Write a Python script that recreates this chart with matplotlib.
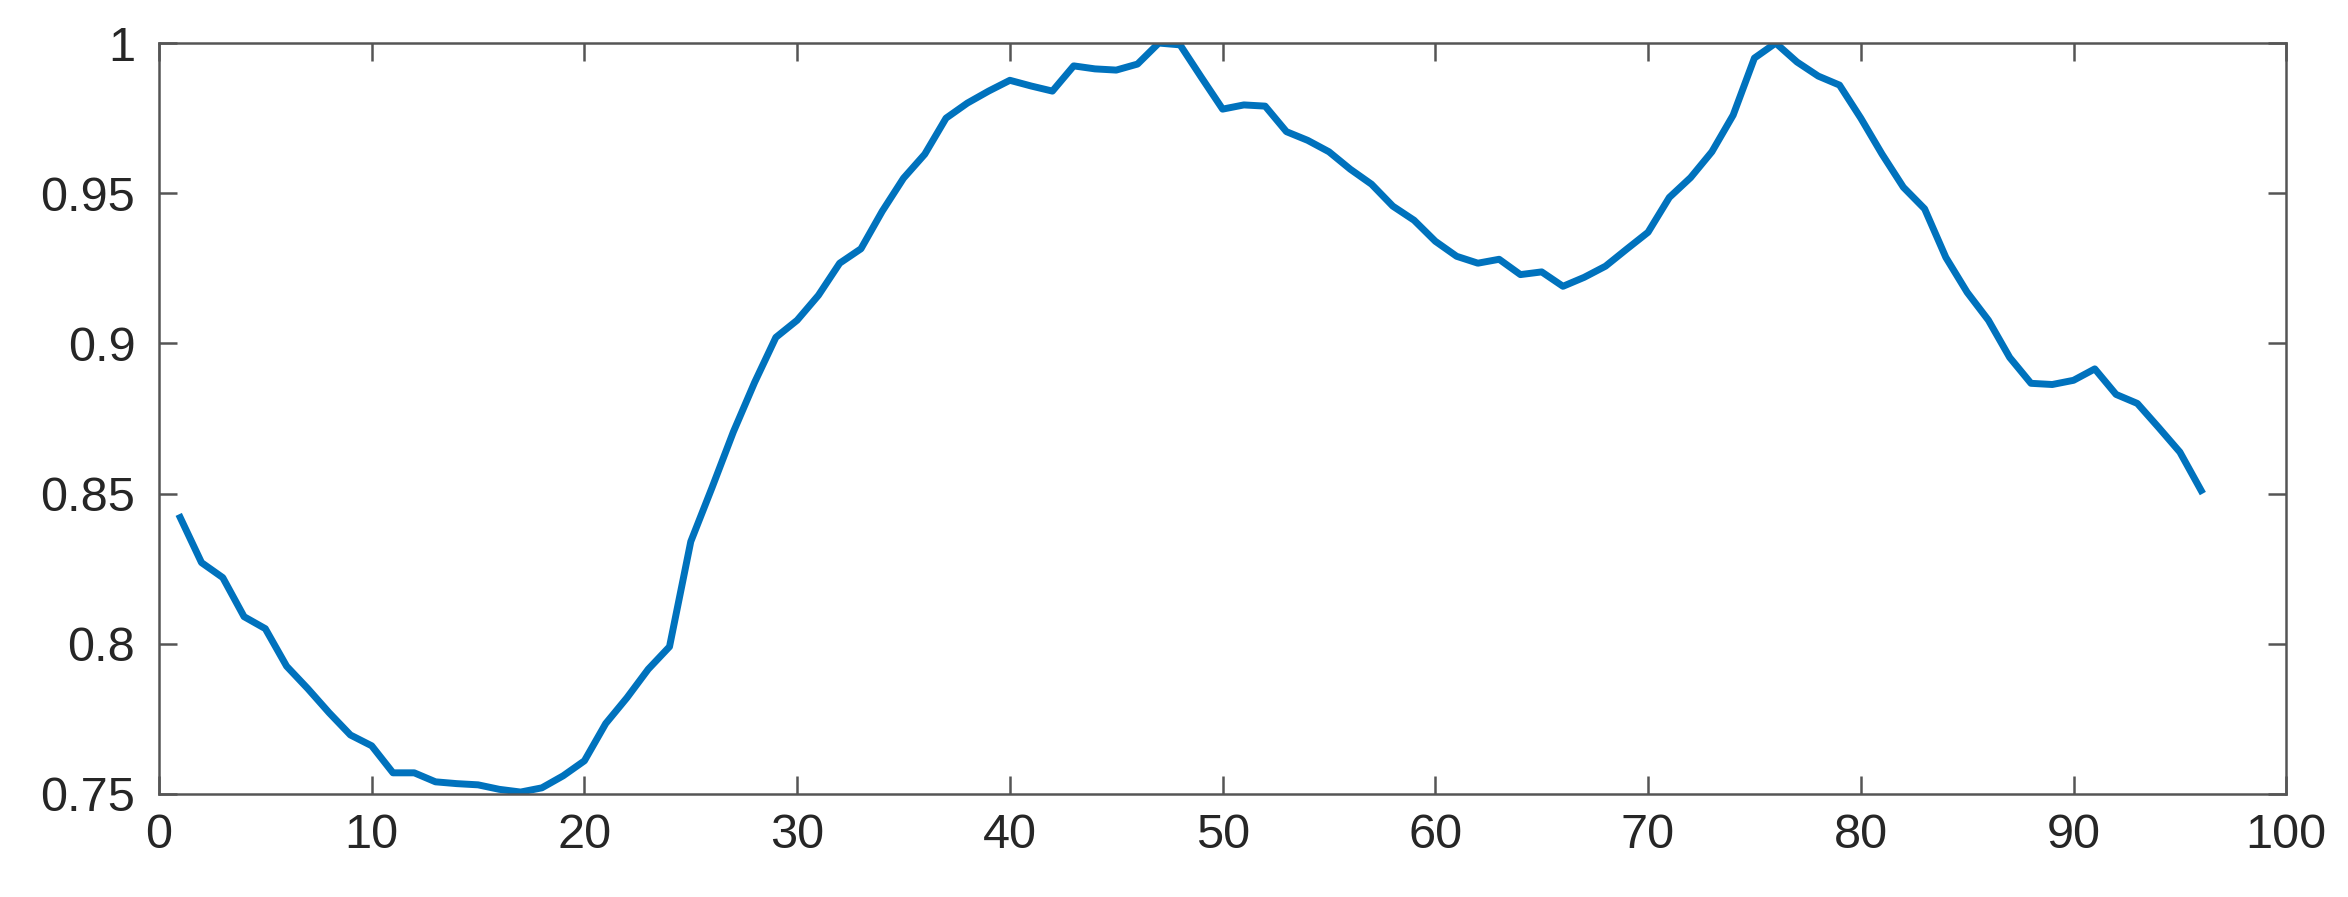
import matplotlib
matplotlib.use("Agg")
import matplotlib.pyplot as plt
from matplotlib.ticker import FormatStrFormatter

# sample index and value
x = list(range(1, 97))
y = [0.842, 0.827, 0.822, 0.809, 0.805, 0.7925, 0.785, 0.777, 0.7696, 0.766,
     0.757, 0.757, 0.754, 0.7534, 0.753, 0.7515, 0.7506, 0.752, 0.756, 0.761,
     0.7734, 0.782, 0.7915, 0.799, 0.834, 0.852, 0.8705, 0.887, 0.902, 0.9077,
     0.916, 0.9267, 0.9315, 0.944, 0.955, 0.963, 0.975, 0.980, 0.984, 0.9876,
     0.9857, 0.984, 0.9924, 0.9914, 0.991, 0.993, 1.000, 0.9994, 0.9886, 0.978,
     0.9794, 0.979, 0.9705, 0.9676, 0.9638, 0.958, 0.953, 0.9457, 0.941, 0.934,
     0.9290, 0.9267, 0.928, 0.9229, 0.9238, 0.919, 0.922, 0.9257, 0.9314, 0.937,
     0.9486, 0.9552, 0.9638, 0.976, 0.995, 1.000, 0.9937, 0.989, 0.986, 0.975,
     0.963, 0.952, 0.9448, 0.9286, 0.917, 0.9077, 0.8953, 0.8867, 0.8863, 0.8877,
     0.8915, 0.883, 0.880, 0.872, 0.8638, 0.851]

xticks = list(range(0, 101, 10))
yticks = [0.75, 0.8, 0.85, 0.9, 0.95, 1.0]

plt.rcParams['font.family'] = ['Liberation Sans', 'DejaVu Sans']

fig = plt.figure(figsize=(23.48, 8.97), dpi=100)
ax = fig.add_axes([0.0677, 0.115, 0.906, 0.837])

ax.plot(x, y, color='#0072BD', linewidth=5)

ax.set_xlim(0, 100)
ax.set_ylim(0.75, 1.0)
ax.set_xticks(xticks)
ax.set_yticks(yticks)
ax.yaxis.set_major_formatter(FormatStrFormatter('%g'))

for s in ax.spines.values():
    s.set_color('#555555')
    s.set_linewidth(1.8)
ax.tick_params(direction='in', length=13, width=1.8, color='#555555',
               top=True, right=True, labelsize=35, labelcolor='#262626')
ax.tick_params(axis='x', pad=14)
ax.tick_params(axis='y', pad=17)

fig.savefig('out.png', dpi=100)
